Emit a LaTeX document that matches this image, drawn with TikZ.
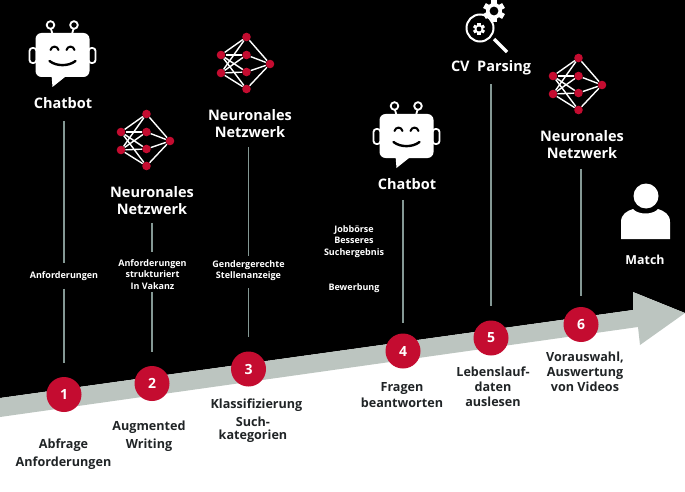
\documentclass[tikz,border=0pt]{standalone}
\usepackage{fontspec}
\setmainfont{Open Sans}
\definecolor{deepred}{RGB}{196,12,48}
\definecolor{arrowgray}{RGB}{188,197,192}
\definecolor{stemgray}{RGB}{132,152,148}
\definecolor{inkgray}{RGB}{32,36,38}
\usetikzlibrary{calc}

\tikzset{
  numdot/.style={circle,fill=deepred,draw=none,minimum size=35pt,inner sep=0pt,
                 font=\fontsize{14}{15}\selectfont\bfseries,text=white},
  netdot/.style={circle,fill=deepred,draw=none,minimum size=8.6pt,inner sep=0pt},
  head/.style={font=\fontsize{14.5}{17}\selectfont\bfseries,text=white,align=center,inner sep=0pt},
  note/.style={font=\fontsize{9}{11.3}\selectfont\bfseries,text=white,align=center,inner sep=0pt},
  step label/.style={font=\fontsize{12.6}{15}\selectfont\bfseries,text=inkgray,align=center,inner sep=0pt},
  stem/.style={draw=stemgray,line width=1.2pt},
  netpic/.pic={
    \foreach \n/\px/\py in {l1/-25/-8,l2/-25/10,m1/0.5/-26,m2/0.5/-8,m3/0.5/9,m4/0.5/26,r1/24/1}
      \node[netdot] (\n) at (\px,\py) {};
    \foreach \m in {m1,m2,m3,m4}{
      \draw[white,line width=1.4pt] (l1) -- (\m);
      \draw[white,line width=1.4pt] (l2) -- (\m);
      \draw[white,line width=1.4pt] (\m) -- (r1);
    }
  },
  botpic/.pic={
    % ears and antennas
    \draw[white,line width=1.8pt,rounded corners=3pt] (-33,-7) rectangle (-26,8);
    \draw[white,line width=1.8pt,rounded corners=3pt] (33,-7) rectangle (26,8);
    \draw[white,line width=1.8pt] (-12,-30) circle (3.8);
    \draw[white,line width=1.8pt] (11.5,-30) circle (3.8);
    \draw[white,line width=1.8pt] (-11.5,-26) -- (-10,-21);
    \draw[white,line width=1.8pt] (11,-26) -- (9.5,-21);
    % face
    \fill[white,rounded corners=6pt] (-27,-22) rectangle (27,22);
    \fill[white] (-11,20) -- (-10,32) -- (5,20) -- cycle;
    \draw[black,line width=2pt,line cap=round] (-12,-5) .. controls (-11,-9.5) and (-5,-9.5) .. (-4,-5);
    \draw[black,line width=2pt,line cap=round] (4,-5) .. controls (5,-9.5) and (11,-9.5) .. (12,-5);
    \draw[black,line width=2.4pt,line cap=round] (-13,6) .. controls (-6,11.5) and (6,11.5) .. (13,6);
  },
  gearpic/.pic={
    \fill[white] (0,0) circle (8);
    \foreach \a in {0,60,...,300}
      \fill[white,rotate=\a] (-2.8,-11) rectangle (2.8,0);
    \fill[black] (0,0) circle (4.4);
  }
}

\begin{document}
\begin{tikzpicture}[x=1pt,y=-1pt]
  \useasboundingbox (0,0) rectangle (685,492);
  % ground and arrow
  \fill[white] (0,0) rectangle (685,492);
  \fill[black] (0,0) -- (685,0) -- (685,313) -- (633,292) -- (633,310) -- (0,398) -- cycle;
  \fill[arrowgray] (0,398) -- (633,310) -- (633,292) -- (685,313) -- (640,345) -- (638,327) -- (0,417) -- cycle;

  % numbered steps
  \node[numdot] (c1) at (64,394.5) {1};
  \node[numdot] (c2) at (152,383.5) {2};
  \node[numdot] (c3) at (248.5,369) {3};
  \node[numdot] (c4) at (403,351) {4};
  \node[numdot] (c5) at (491,338) {5};
  \node[numdot] (c6) at (581,324.5) {6};

  % icons
  \pic at (62.5,55) {botpic};
  \pic at (406.5,136) {botpic};
  \pic at (146,140) {netpic};
  \pic at (246,63) {netpic};
  \pic at (578,84) {netpic};
  \draw[white,line width=2pt] (480,28) circle (13.5);
  \draw[white,line width=3.4pt] (494,39) -- (507,52);
  \pic at (494,11) {gearpic};
  \pic[scale=0.55] at (479,29) {gearpic};
  \fill[white] (646,196) circle (12.5);
  \fill[white] (621,239) -- (621,222) .. controls (621,214) and (627,211) .. (633,209)
    .. controls (638,215) and (653,215) .. (658,209)
    .. controls (664,211) and (670,214) .. (670,222) -- (670,239) -- cycle;

  % headings
  \node[head] (hdr1) at (63,103) {Chatbot};
  \node[head] (hdr2) at (152,200.5) {Neuronales\\Netzwerk};
  \node[head] (hdr3) at (250,123.5) {Neuronales\\Netzwerk};
  \node[head] (hdr4) at (407,184) {Chatbot};
  \node[head] (hdr5) at (491,68) {CV\ \ Parsing};
  \node[head] (hdr6) at (582,144.5) {Neuronales\\Netzwerk};
  \node[head,font=\fontsize{12.4}{15}\selectfont\bfseries] (match) at (645,259.5) {Match};

  % small notes
  \node[note] (note1) at (64,276) {Anforderungen};
  \node[note] (note2) at (152.5,274.5) {Anforderungen\\strukturiert\\In Vakanz};
  \node[note] (note3) at (248.5,271) {Gendergerechte\\Stellenanzeige};
  \node[note] (note4) at (354,241.5) {Jobbörse\\Besseres\\Suchergebnis};
  \node[note] (note5) at (354,288) {Bewerbung};

  % stems
  \draw[stem,shorten <=12pt,shorten >=8pt] (hdr1.south -| c1) -- (note1.north -| c1);
  \draw[stem,shorten <=8pt,shorten >=14pt] (note1.south -| c1) -- (c1.north);
  \draw[stem,shorten <=8pt,shorten >=8pt] (hdr2.south -| c2) -- (note2.north -| c2);
  \draw[stem,shorten <=3pt,shorten >=14pt] (note2.south -| c2) -- (c2.north);
  \draw[stem,shorten <=9pt,shorten >=5pt] (hdr3.south -| c3) -- (note3.north -| c3);
  \draw[stem,shorten <=7pt,shorten >=14pt] (note3.south -| c3) -- (c3.north);
  \draw[stem,shorten <=10pt,shorten >=10pt] (hdr4.south -| c4) -- (c4.north);
  \draw[stem,shorten <=9pt,shorten >=14pt] (hdr5.south -| c5) -- (c5.north);
  \draw[stem,shorten <=10pt,shorten >=11pt] (hdr6.south -| c6) -- (c6.north);

  % step labels
  \node[step label] (lab1) at (63.5,454) {Abfrage\\[3pt]Anforderungen};
  \node[step label] (lab2) at (149,436.5) {Augmented\\[3pt]Writing};
  \node[step label] (lab3a) at (256.5,405) {Klassifizierung};
  \node[step label] (lab3b) at (253,429.5) {Such-\\[-2pt]kategorien};
  \node[step label] (lab4) at (402,395.5) {Fragen\\[1pt]beantworten};
  \node[step label] (lab5) at (493,387) {Lebenslauf-\\daten\\auslesen};
  \node[step label] (lab6) at (585,372) {Vorauswahl,\\Auswertung\\von Videos};
\end{tikzpicture}
\end{document}
